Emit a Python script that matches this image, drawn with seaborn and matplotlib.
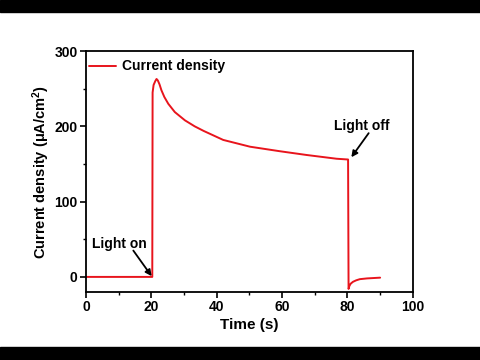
import pandas as pd
import seaborn as sns
import matplotlib.pyplot as plt
from matplotlib.patches import Rectangle
from matplotlib.ticker import MultipleLocator

# values
time_s = [0, 5, 10, 15, 20.3, 20.4, 20.7, 21.2, 21.6, 22.0, 22.5, 23.1, 24.0, 25.2,
          27.2, 30.3, 33.3, 36.0, 42.0, 50.2, 59.3, 67.5, 76.7, 80.2,
          80.35, 80.6, 81.0, 81.7, 82.7, 83.8, 86.0, 90.0]
current = [0, 0, 0, 0, 0, 245, 255, 260, 263, 261, 256, 248, 239, 230,
           219, 208, 200, 194, 182, 173, 167, 162, 157, 156,
           -16, -12, -9, -6.5, -4.5, -3, -2, -1]

df = pd.DataFrame({"Time (s)": time_s, "Current density": current})

sns.set_style("ticks")
plt.rcParams["font.family"] = ["Liberation Sans", "DejaVu Sans"]
plt.rcParams["font.weight"] = "bold"
plt.rcParams["text.color"] = "black"
plt.rcParams["axes.labelcolor"] = "black"
plt.rcParams["xtick.color"] = "black"
plt.rcParams["ytick.color"] = "black"
plt.rcParams["axes.edgecolor"] = "black"

fig = plt.figure(figsize=(4.8, 3.6), dpi=100)
ax = fig.add_axes([0.179, 0.189, 0.681, 0.669])

sns.lineplot(data=df, x="Time (s)", y="Current density", ax=ax,
             color="#e8141c", linewidth=1.4, label="Current density")

ax.set_xlim(0, 100)
ax.set_ylim(-20, 300)
ax.xaxis.set_major_locator(MultipleLocator(20))
ax.xaxis.set_minor_locator(MultipleLocator(10))
ax.yaxis.set_major_locator(MultipleLocator(100))
ax.yaxis.set_minor_locator(MultipleLocator(50))
ax.tick_params(which="major", length=4, width=1.2, labelsize=10, direction="out", pad=2)
ax.tick_params(which="minor", length=2.5, width=1.0, direction="out")
for lab in ax.get_xticklabels() + ax.get_yticklabels():
    lab.set_fontweight("bold")
for sp in ax.spines.values():
    sp.set_linewidth(1.3)
    sp.set_visible(True)

ax.set_xlabel("Time (s)", fontsize=11, fontweight="bold", labelpad=3)
ax.set_ylabel(r"Current density ($\mathregular{\mu}$A/cm$\mathregular{^2}$)",
              fontsize=10.5, fontweight="bold", labelpad=2)

leg = ax.legend(loc="upper left", bbox_to_anchor=(-0.017, 1.0), frameon=False,
                fontsize=10, handlelength=2.0, borderaxespad=0.0, borderpad=0.6,
                handletextpad=0.4)
for t in leg.get_texts():
    t.set_fontweight("bold")

ax.text(10.1, 44, "Light on", ha="center", va="center", fontsize=10, fontweight="bold")
ax.annotate("", xy=(20.1, 1), xytext=(14.5, 35),
            arrowprops=dict(arrowstyle="-|>", color="black", lw=1.3, mutation_scale=9,
                            shrinkA=0, shrinkB=0))
ax.text(84.4, 200, "Light off", ha="center", va="center", fontsize=10, fontweight="bold")
ax.annotate("", xy=(81.2, 159), xytext=(86.5, 191),
            arrowprops=dict(arrowstyle="-|>", color="black", lw=1.3, mutation_scale=9,
                            shrinkA=0, shrinkB=0))

# letterbox bars
fig.patches.append(Rectangle((0, 1 - 12 / 360), 1, 12 / 360, transform=fig.transFigure,
                             color="black", zorder=-1))
fig.patches.append(Rectangle((0, 0), 1, 13 / 360, transform=fig.transFigure,
                             color="black", zorder=-1))

fig.savefig("out.png", dpi=100)
